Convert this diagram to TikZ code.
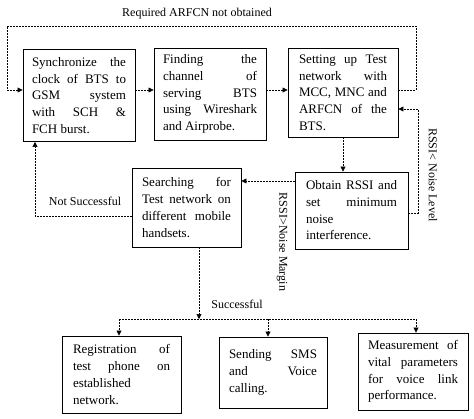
\documentclass[tikz,border=0pt]{standalone}
\usepackage{fontspec}
\setmainfont{Liberation Serif}
\usetikzlibrary{arrows.meta}

\tikzset{
  stepbox/.style={draw, line width=0.9pt, align=justify, inner ysep=0pt,
    font=\fontsize{13}{16.7}\selectfont},
  link/.style={line width=0.6pt, dash pattern=on 1.6pt off 1.4pt},
  flow/.style={link, -{Triangle[length=5pt,width=5pt]}},
  lbl/.style={font=\fontsize{12}{14}\selectfont, inner sep=0pt}
}

\begin{document}
\begin{tikzpicture}[x=1pt,y=-1pt]
  \useasboundingbox (0,0) rectangle (474,418);
  \node[stepbox, inner xsep=9pt, text width=94pt, minimum height=92pt] (sync) at (79,95.5)
    {Synchronize the\linebreak clock of BTS to\linebreak GSM system\linebreak with SCH \&\linebreak FCH burst.};
  \node[stepbox, inner xsep=9pt, text width=94pt, minimum height=92pt] (find) at (210,94)
    {Finding the\linebreak channel of\linebreak serving BTS\linebreak using Wireshark\linebreak and Airprobe.};
  \node[stepbox, inner xsep=11pt, text width=88pt, minimum height=89pt] (setup) at (343,92.5)
    {Setting up Test\linebreak network with\linebreak MCC, MNC and\linebreak ARFCN of the\linebreak BTS.};
  \node[stepbox, inner xsep=11pt, text width=91pt, minimum height=77pt] (rssi) at (351.5,210.5)
    {Obtain RSSI and\linebreak set minimum\linebreak noise\newline interference.};
  \node[stepbox, inner xsep=10pt, text width=89pt, minimum height=79pt] (search) at (186.5,207.5)
    {Searching for\linebreak Test network on\linebreak different mobile\linebreak handsets.};
  \node[stepbox, inner xsep=11pt, text width=97pt, minimum height=77pt] (reg) at (121.5,374.5)
    {Registration of\linebreak test phone on\linebreak established\newline network.};
  \node[stepbox, inner xsep=10pt, text width=88pt, minimum height=71pt] (sms) at (273,372.5)
    {Sending SMS\linebreak and Voice\linebreak calling.};
  \node[stepbox, inner xsep=10pt, text width=90pt, minimum height=77pt] (meas) at (413,371.5)
    {Measurement of\linebreak vital parameters\linebreak for voice link\linebreak performance.};

  \coordinate (row) at (0,90);
  \draw[flow] (sync.east |- row) -- (find.west |- row);
  \draw[flow] (find.east |- row) -- (setup.west |- row);
  \draw[flow] (setup.east |- row) -| (416,26) -| (7,90) -- (sync.west |- row);
  \node[lbl] (arfcn) at (197,14) {Required ARFCN not obtained};

  \draw[flow] (setup.south) -- (setup.south |- rssi.north);
  \draw[flow] (rssi.east |- 0,213) -| (418,109) -- (setup.east |- 0,109);
  \node[lbl, rotate=-90] (level) at (433,175) {RSSI< Noise Level};

  \draw[flow] (rssi.west |- 0,181) -- (search.east |- 0,181);
  \node[lbl, rotate=-90] (margin) at (282,242) {RSSI>Noise Margin};

  \draw[flow] (search.west |- 0,216) -| (sync.south -| 35,0);
  \node[lbl] (notok) at (85,201) {Not Successful};

  \coordinate (bus) at (199,319);
  \draw[flow] (search.south -| bus) -- (bus);
  \node[lbl] (ok) at (237,304) {Successful};
  \draw[link] (119,319) -- (416,319);
  \draw[flow] (119,319) -- (reg.north -| 119,0);
  \draw[flow] (268,319) -- (sms.north -| 268,0);
  \draw[flow] (416,319) -- (meas.north -| 416,0);
\end{tikzpicture}
\end{document}
